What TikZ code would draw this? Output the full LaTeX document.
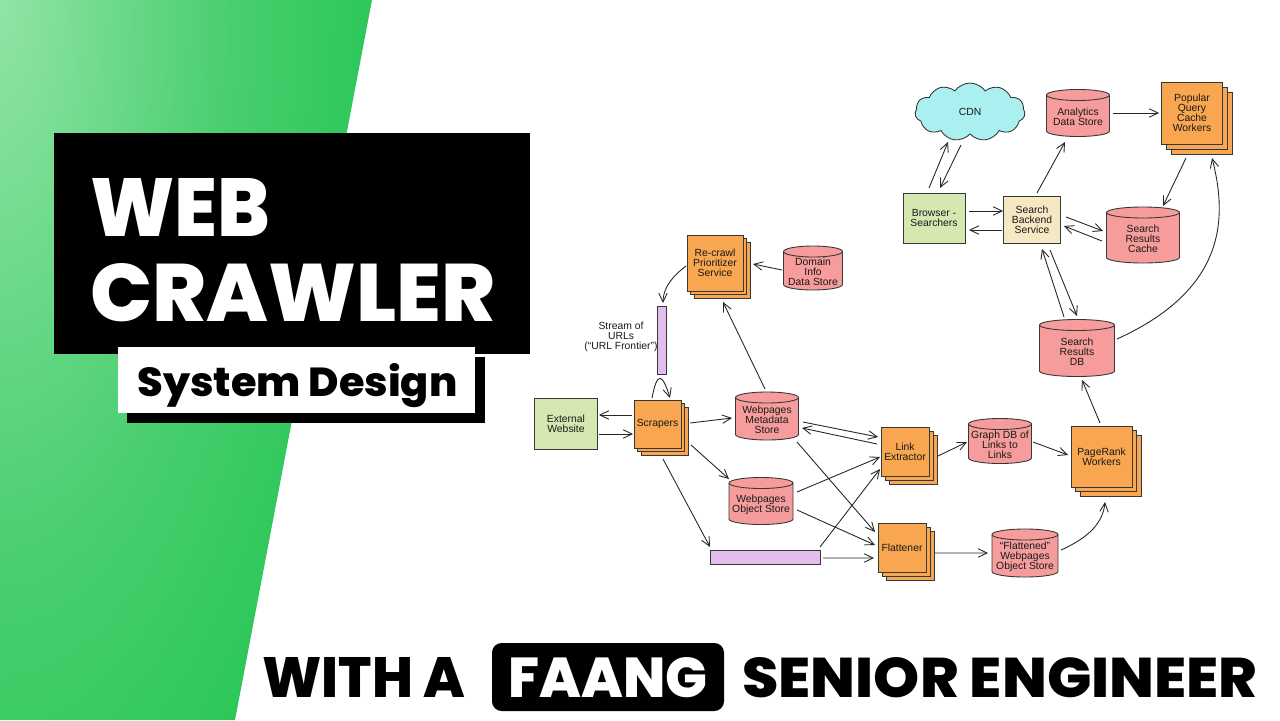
\documentclass[tikz,border=0pt]{standalone}
\usepackage{fontspec}
\usepackage{graphicx}
\usetikzlibrary{arrows.meta,shapes.symbols}
\newfontfamily\dfont{Liberation Sans}
\IfFontExistsTF{Poppins ExtraBold}{\newfontfamily\tfont{Poppins ExtraBold}[BoldFont={Poppins ExtraBold}]}{\newfontfamily\tfont{Poppins}}
\newlength\pxu \setlength\pxu{0.02cm}
\definecolor{orng}{RGB}{248,166,79}
\definecolor{pinkc}{RGB}{246,156,156}
\definecolor{greenc}{RGB}{213,232,178}
\definecolor{beigec}{RGB}{246,232,194}
\definecolor{cyanc}{RGB}{170,240,240}
\definecolor{purc}{RGB}{225,190,235}
\definecolor{edgec}{RGB}{55,55,55}
\definecolor{gUL}{RGB}{145,228,165}
\definecolor{gMid}{RGB}{72,206,110}
\definecolor{gSat}{RGB}{20,192,70}
\definecolor{gLR}{RGB}{0,186,52}
\pgfdeclareradialshading{grnshade}{\pgfpoint{0bp}{0bp}}{color(0bp)=(gUL); color(13bp)=(gMid); color(28bp)=(gSat); color(40bp)=(gLR); color(50bp)=(gLR)}
\tikzset{
  lbl/.style={font=\dfont\fontsize{5.9}{5.7}\selectfont, align=center, text=black!90},
  boxst/.style={draw=edgec, line width=0.5pt},
  stkst/.style={boxst, fill=orng},
  cylst/.style={draw=edgec, line width=0.5pt, fill=pinkc},
  arr/.style={draw=black!85, line width=0.5pt, -{Straight Barb[length=5pt,width=4.8pt]}},
  ttl/.style={inner sep=0pt, anchor=base west}
}
\newcommand{\cyldb}[6]{%
  \pgfmathsetmacro{\cxa}{#2-#4/2}\pgfmathsetmacro{\cxb}{#2+#4/2}%
  \pgfmathsetmacro{\cya}{#3-#5/2+5.5}\pgfmathsetmacro{\cyb}{#3+#5/2-5.5}%
  \pgfmathsetmacro{\crx}{#4/2}%
  \draw[cylst] (\cxa,\cya) -- (\cxa,\cyb) arc[start angle=180,end angle=0,x radius=\crx,y radius=5.5] -- (\cxb,\cya) arc[start angle=0,end angle=-180,x radius=\crx,y radius=5.5] -- cycle;
  \draw[draw=edgec, line width=0.5pt] (\cxa,\cya) arc[start angle=180,end angle=0,x radius=\crx,y radius=5.5];
  \node[inner sep=0pt, minimum width=#4\pxu, minimum height=#5\pxu] (#1) at (#2,#3) {};
  \node[lbl] at (#2,#3+4) {#6};
}
\newcommand{\stk}[7]{%
  \draw[stkst] (#2-#4/2+2*#6,#3-#5/2+2*#6) rectangle (#2+#4/2+2*#6,#3+#5/2+2*#6);
  \draw[stkst] (#2-#4/2+#6,#3-#5/2+#6) rectangle (#2+#4/2+#6,#3+#5/2+#6);
  \node[stkst, lbl, inner sep=1pt, minimum width=#4\pxu, minimum height=#5\pxu] (#1) at (#2,#3) {#7};
}
\begin{document}
\begin{tikzpicture}[x=0.02cm, y=-0.02cm]
\useasboundingbox (0,0) rectangle (1280,720);
\fill[white] (0,0) rectangle (1280,720);
% green background
\begin{scope}
  \clip (0,0) -- (372,0) -- (235,720) -- (0,720) -- cycle;
  \shade[shading=grnshade] (-450,-1100) rectangle (450,1100);
\end{scope}
% title
\fill[black] (54,133) rectangle (530,354);
\node[ttl, text=white] (tweb) at (90,236) {\resizebox{180\pxu}{58\pxu}{\tfont\bfseries WEB}};
\node[ttl, text=white] (tcrawl) at (90,321) {\resizebox{405\pxu}{58\pxu}{\tfont\bfseries CRAWLER}};
\fill[black] (127,357) rectangle (485,423);
\fill[white] (118,347) rectangle (475,413);
\node[ttl, text=black] (tsys) at (137,396) {\resizebox{320\pxu}{33\pxu}{\tfont\bfseries System Design}};
% bottom
\node[ttl, text=black] (twith) at (262,697) {\resizebox{203\pxu}{40\pxu}{\tfont\bfseries WITH A}};
\fill[black, rounded corners=5.5pt] (492,643) rectangle (724,711);
\node[ttl, text=white] (tfaang) at (508,697) {\resizebox{199\pxu}{40\pxu}{\tfont\bfseries FAANG}};
\node[ttl, text=black] (tsenior) at (742,697) {\resizebox{515\pxu}{40\pxu}{\tfont\bfseries SENIOR ENGINEER}};

% ---------------- diagram nodes ----------------
\node[cloud, cloud puffs=11, cloud puff arc=110, aspect=1.9, draw=edgec, line width=0.5pt, fill=cyanc, minimum width=110\pxu, minimum height=58\pxu, inner sep=0pt, lbl] (cdn) at (970,112) {CDN};
\cyldb{ana}{1078}{113}{63}{47}{Analytics\\Data Store}
\stk{pqc}{1192}{113}{61}{62}{5}{Popular\\Query\\Cache\\Workers}
\node[boxst, fill=greenc, lbl, minimum width=62\pxu, minimum height=50\pxu] (brw) at (934,218) {Browser -\\Searchers};
\node[boxst, fill=beigec, lbl, minimum width=57\pxu, minimum height=47\pxu] (sbs) at (1032,220) {Search\\Backend\\Service};
\cyldb{src}{1143}{235}{73}{56}{Search\\Results\\Cache}
\cyldb{srdb}{1077}{348}{75}{57}{Search\\Results\\DB}
\stk{rcp}{715}{263}{56}{56}{3.6}{Re-crawl\\Prioritizer\\Service}
\cyldb{dom}{813}{268}{59}{44}{Domain\\Info\\Data Store}
\node[boxst, fill=purc, minimum width=9\pxu, minimum height=68\pxu, inner sep=0pt] (url) at (661.5,340) {};
\node[lbl] (urllbl) at (621,337) {Stream of\\URLs\\(“URL Frontier”)};
\node[boxst, fill=greenc, lbl, minimum width=63\pxu, minimum height=51\pxu] (ext) at (566,424) {External\\Website};
\stk{scr}{657.5}{424}{47}{48}{3.7}{Scrapers}
\cyldb{wms}{767}{416}{63}{48}{Webpages\\Metadata\\Store}
\cyldb{wos}{761}{501}{64}{47}{Webpages\\Object Store}
\node[boxst, fill=purc, minimum width=110\pxu, minimum height=14\pxu, inner sep=0pt] (bar) at (765,557) {};
\stk{lex}{905}{451.5}{48}{49}{4}{Link\\Extractor}
\stk{fla}{902}{547.5}{48}{49}{4}{Flattener}
\cyldb{gdb}{1000}{441}{63}{45}{Graph DB of\\Links to\\Links}
\cyldb{fos}{1025}{553}{66}{48}{“Flattened”\\Webpages\\Object Store}
\stk{prw}{1101.5}{456.5}{61}{61}{4.5}{PageRank\\Workers}

% ---------------- connectors ----------------
\draw[arr] ([shift={(-5,-30)}]brw.center) -- ([shift={(-22,30)}]cdn.center);
\draw[arr] ([shift={(-9,33)}]cdn.center) -- ([shift={(6,-30)}]brw.center);
\draw[arr] ([shift={(35,-7)}]brw.center) -- ([shift={(-29,-9)}]sbs.center);
\draw[arr] ([shift={(-30,10)}]sbs.center) -- ([shift={(35,12)}]brw.center);
\draw[arr] ([shift={(5,-27)}]sbs.center) -- ([shift={(-13,29)}]ana.center);
\draw[arr] ([shift={(35,0)}]ana.center) -- ([shift={(-33,0)}]pqc.center);
\draw[arr] ([shift={(-6,45)}]pqc.center) -- ([shift={(20,-29)}]src.center);
\draw[arr] ([shift={(34,-3)}]sbs.center) -- ([shift={(-40,-4)}]src.center);
\draw[arr] ([shift={(-41,6)}]src.center) -- ([shift={(32,6)}]sbs.center);
\draw[arr] ([shift={(-13,-31)}]srdb.center) -- ([shift={(10,29)}]sbs.center);
\draw[arr] ([shift={(18,30)}]sbs.center) -- ([shift={(0,-32)}]srdb.center);
\draw[arr] ([shift={(40,-9)}]srdb.center) .. controls (1225,290) and (1228,220) .. ([shift={(20,45)}]pqc.center);
\draw[arr] ([shift={(-1.5,-33.5)}]prw.center) -- ([shift={(5,32)}]srdb.center);
\draw[arr] ([shift={(33,1)}]gdb.center) -- ([shift={(-33.5,-1.5)}]prw.center);
\draw[arr] ([shift={(33,4.5)}]lex.center) -- ([shift={(-33,1)}]gdb.center);
\draw[arr] ([shift={(36,-3)}]fos.center) .. controls (1090,537) and (1103,522) .. ([shift={(3.5,45.5)}]prw.center);
\draw[arr] ([shift={(33,5.5)}]fla.center) -- ([shift={(-37,0)}]fos.center);
\draw[arr] ([shift={(58,1)}]bar.center) -- ([shift={(-28,10.5)}]fla.center);
\draw[arr] ([shift={(55,-10)}]bar.center) -- ([shift={(-25,17.5)}]lex.center);
\draw[arr] ([shift={(36,-9)}]wos.center) -- ([shift={(-25,5.5)}]lex.center);
\draw[arr] ([shift={(36,9)}]wos.center) -- ([shift={(-27,-2.5)}]fla.center);
\draw[arr] ([shift={(30,26)}]wms.center) -- ([shift={(-27,-15.5)}]fla.center);
\draw[arr] ([shift={(36,6)}]wms.center) -- ([shift={(-27,-14.5)}]lex.center);
\draw[arr] ([shift={(-28,-7.5)}]lex.center) -- ([shift={(35,12)}]wms.center);
\draw[arr] ([shift={(-2,-27)}]wms.center) -- ([shift={(8,39)}]rcp.center);
\draw[arr] ([shift={(-31,2)}]dom.center) -- ([shift={(38,1)}]rcp.center);
\draw[arr] ([shift={(-29,3)}]rcp.center) .. controls (670,278) and (663,290) .. ([shift={(1.5,-37)}]url.center);
\draw[arr] ([shift={(-5.5,-26)}]scr.center) .. controls ([shift={(-4.5,32)}]url.center) and ([shift={(0.5,32)}]url.center) .. ([shift={(12.5,-26)}]scr.center);
\draw[arr] ([shift={(-25.5,-9)}]scr.center) -- ([shift={(33,-9)}]ext.center);
\draw[arr] ([shift={(33,10)}]ext.center) -- ([shift={(-24.5,10)}]scr.center);
\draw[arr] ([shift={(32.5,-1)}]scr.center) -- ([shift={(-35,2)}]wms.center);
\draw[arr] ([shift={(33.5,21)}]scr.center) -- ([shift={(-32,-22)}]wos.center);
\draw[arr] ([shift={(5.5,35)}]scr.center) -- ([shift={(-55,-10)}]bar.center);
\end{tikzpicture}
\end{document}
